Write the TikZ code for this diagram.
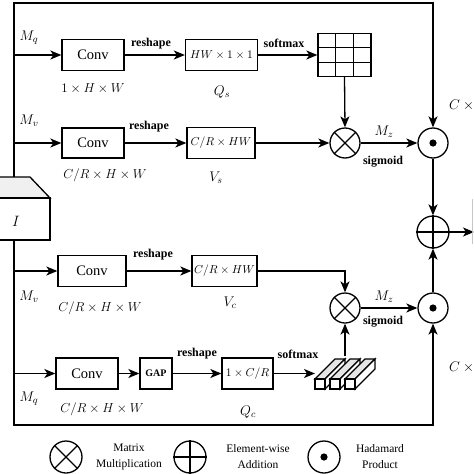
\RequirePackage{fix-cm}
\documentclass[tikz,border=0pt]{standalone}
\usepackage{fontspec}
\setmainfont{Liberation Serif}
\usetikzlibrary{arrows.meta}
\begin{document}
\begin{tikzpicture}[x=1pt,y=-1pt,
  lw/.style={line width=1.3pt},
  blk/.style={draw,lw,minimum height=31pt,inner sep=0pt,font=\fontsize{14.5}{16}\selectfont},
  sbox/.style={draw,lw,minimum height=31pt,inner sep=0pt,font=\fontsize{11.5}{13}\selectfont},
  arr/.style={lw,-{Stealth[length=11pt,width=9pt,inset=3pt]}},
  op/.style={circle,draw,lw,minimum size=30pt,inner sep=0pt},
  lab/.style={font=\fontsize{14}{16}\selectfont,inner sep=0pt},
  dim/.style={font=\fontsize{13}{15}\selectfont,inner sep=0pt},
  bl/.style={font=\bfseries\fontsize{12}{14}\selectfont,inner sep=0pt},
  leg/.style={font=\fontsize{11.5}{16}\selectfont,align=center,inner sep=0pt},
  barface/.style={draw,lw,fill=white,line join=miter},
  bartop/.style={draw,lw,fill=gray!20,line join=miter}
]
\useasboundingbox (0,0) rectangle (474,474);

% input block I
\filldraw[lw,fill=gray!12] (-20,177) -- (30,177) -- (50,198) -- (-20,198) -- cycle;
\draw[lw] (-20,198) rectangle (50,240);
\node[lab,font=\fontsize{15}{17}\selectfont] (ilab) at (16,221) {$I$};

% coordinates of the trunk
\coordinate (itop) at (14,177);
\coordinate (ibot) at (14,240);
\coordinate (tl) at (14,3);
\coordinate (tr) at (433,3);
\coordinate (bl0) at (14,425);
\coordinate (br) at (433,425);
\coordinate (b1) at (14,55);
\coordinate (b2) at (14,143);
\coordinate (b3) at (14,271);
\coordinate (b4) at (14,373.5);

% row 1
\node[blk,minimum width=62pt] (conv1) at (93,55) {Conv};
\node[sbox,minimum width=72pt] (hw) at (221.5,55) {$HW\times1\times1$};
\node[draw,lw,minimum width=53pt,minimum height=43pt,inner sep=0pt] (grid) at (344.5,55) {};
\draw[lw] (335.67,33.5) -- (335.67,76.5) (353.33,33.5) -- (353.33,76.5)
          (318,47.83) -- (371,47.83) (318,62.17) -- (371,62.17);

% row 2
\node[blk,minimum width=62pt,minimum height=30pt] (conv2) at (93,143) {Conv};
\node[sbox,minimum width=68pt] (vs) at (221,143) {$C/R\times HW$};
\node[op] (mm1) at (345,143) {};
\node[op] (had1) at (433,143) {};
\node[op,minimum size=32pt] (plus) at (433,232) {};

% row 3
\node[blk,minimum width=68pt] (conv3) at (92,271) {Conv};
\node[sbox,minimum width=65pt] (vc) at (224.5,271) {$C/R\times HW$};
\node[op] (mm2) at (345,308) {};
\node[op] (had2) at (433,308) {};

% row 4
\node[blk,minimum width=62pt] (conv4) at (87,373.5) {Conv};
\node[draw,lw,minimum width=32pt,minimum height=31pt,inner sep=0pt,font=\bfseries\fontsize{10}{11}\selectfont] (gap) at (156,373.5) {GAP};
\node[sbox,minimum width=51pt] (qc) at (247.5,373.5) {$1\times C/R$};

% 3D bars
\foreach \x in {315,330,345}{
  \filldraw[bartop] (\x,379) -- (\x+10,379) -- (\x+30,359) -- (\x+20,359) -- cycle;
  \filldraw[barface] (\x+10,379) -- (\x+10,389) -- (\x+30,369) -- (\x+30,359) -- cycle;
  \filldraw[barface] (\x,379) rectangle (\x+10,389);
}
\coordinate (barsin) at (315,373.5);
\coordinate (barsout) at (345,356);

% operator symbols
\draw[lw] (mm1.north west) -- (mm1.south east) (mm1.north east) -- (mm1.south west);
\draw[lw] (mm2.north west) -- (mm2.south east) (mm2.north east) -- (mm2.south west);
\draw[lw] (plus.north) -- (plus.south) (plus.west) -- (plus.east);
\fill (had1.center) circle (3.6);
\fill (had2.center) circle (3.6);

% trunk connectors
\draw[arr] (itop) -- (tl) -- (tr) -- (had1.north);
\draw[arr] (ibot) -- (bl0) -- (br) -- (had2.south);
\draw[arr] (b1) -- (conv1.west);
\draw[arr] (b2) -- (conv2.west);
\draw[arr] (b3) -- (conv3.west);
\draw[arr] (b4) -- (conv4.west);

% row connectors
\draw[arr] (conv1.east) -- (hw.west);
\draw[arr] (hw.east) -- (grid.west);
\draw[arr] (grid.south) -- (mm1.north);
\draw[arr] (conv2.east) -- (vs.west);
\draw[arr] (vs.east) -- (mm1.west);
\draw[arr] (mm1.east) -- (had1.west);
\draw[arr] (had1.south) -- (plus.north);
\draw[arr] (had2.north) -- (plus.south);
\coordinate (outp) at (474,232);
\draw[arr] (plus.east) -- (outp);
\draw[arr] (conv3.east) -- (vc.west);
\draw[arr] (vc.east) -| (mm2.north);
\draw[arr] (mm2.east) -- (had2.west);
\draw[arr] (conv4.east) -- (gap.west);
\draw[arr] (gap.east) -- (qc.west);
\draw[arr] (qc.east) -- (barsin);
\draw[arr] (barsout) -- (mm2.south);

% cut-off box at right edge
\draw[gray!45,line width=1.6pt] (472.5,199) -- (472.5,244);

% labels
\node[lab] (lmq1) at (29,38) {$M_q$};
\node[dim] (ls1) at (93,89) {$1\times H\times W$};
\node[bl] (lr1) at (151,44) {reshape};
\node[lab] (lqs) at (222,92) {$Q_s$};
\node[bl] (lsm1) at (284,43) {softmax};
\node[lab] (lmv1) at (29,121) {$M_v$};
\node[dim] (ls2) at (105,175) {$C/R\times H\times W$};
\node[bl] (lr2) at (149,127) {reshape};
\node[lab] (lvs) at (216,178) {$V_s$};
\node[lab] (lmz1) at (384,132) {$M_z$};
\node[bl] (lsg1) at (383,162) {sigmoid};
\node[lab,anchor=west] (lc1) at (449,105) {$C\times{}$};

\node[lab] (lmv2) at (29,297) {$M_v$};
\node[dim] (ls3) at (100,308) {$C/R\times H\times W$};
\node[bl] (lr3) at (153,255) {reshape};
\node[lab] (lvc) at (230,303) {$V_c$};
\node[lab] (lmz2) at (384,297) {$M_z$};
\node[bl] (lsg2) at (383,322) {sigmoid};
\node[lab,anchor=west] (lc2) at (449,367) {$C\times{}$};

\node[lab] (lmq2) at (29,399) {$M_q$};
\node[dim] (ls4) at (102,409) {$C/R\times H\times W$};
\node[bl] (lr4) at (197,354) {reshape};
\node[lab] (lqc) at (248,412) {$Q_c$};
\node[bl] (lsm2) at (298,354) {softmax};

% legend
\node[op,minimum size=32pt] (lgmm) at (66,457) {};
\draw[lw] (lgmm.north west) -- (lgmm.south east) (lgmm.north east) -- (lgmm.south west);
\node[leg] (lgt1) at (129,457) {Matrix\\Multiplication};
\node[op,minimum size=32pt] (lgpl) at (190,457) {};
\draw[lw] (lgpl.north) -- (lgpl.south) (lgpl.west) -- (lgpl.east);
\node[leg] (lgt2) at (258,457) {Element-wise\\Addition};
\node[op,minimum size=32pt] (lghd) at (324,457) {};
\fill (lghd.center) circle (3.6);
\node[leg] (lgt3) at (380,457) {Hadamard\\Product};
\end{tikzpicture}
\end{document}
